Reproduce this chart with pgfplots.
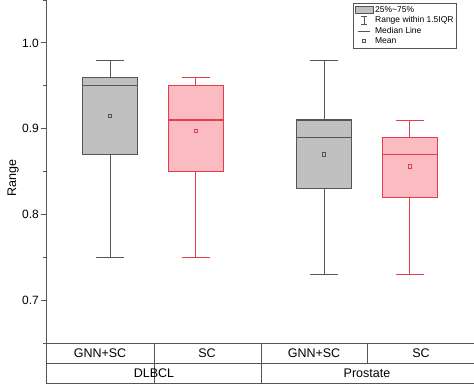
\documentclass[border=0pt]{standalone}
\usepackage{pgfplots}
\pgfplotsset{compat=1.18}
\usepgfplotslibrary{statistics}
\usepackage{fontspec}
\setmainfont{Liberation Sans}
\definecolor{gedge}{RGB}{85,85,85}
\definecolor{gfill}{RGB}{192,192,192}
\definecolor{redge}{RGB}{232,60,72}
\definecolor{rfill}{RGB}{250,188,194}
\begin{document}
\begin{tikzpicture}[x=1pt,y=1pt]
\useasboundingbox (0,0) rectangle (474,384);
\begin{axis}[
  at={(46pt,41pt)}, anchor=south west,
  scale only axis, width=428pt, height=343pt,
  xmin=0.5, xmax=4.5, ymin=0.65, ymax=1.05,
  axis y line*=left, axis x line*=bottom,
  xtick=\empty,
  ytick={0.7,0.8,0.9,1.0},
  minor ytick={0.65,0.75,0.85,0.95,1.05},
  tick align=outside,
  major tick length=5pt, minor tick length=3pt,
  tick style={gedge, line width=0.8pt},
  axis line style={gedge, line width=0.9pt},
  /pgf/number format/assume math mode=true,
  yticklabel style={/pgf/number format/fixed, /pgf/number format/precision=1, /pgf/number format/fixed zerofill, font=\fontsize{12}{14}\selectfont, inner sep=2pt},
  ylabel={Range},
  ylabel style={at={(axis description cs:-0.077,0.481)}, anchor=center, font=\fontsize{12.5}{14}\selectfont},
  legend style={at={(axis description cs:0.960,0.991)}, anchor=north east, font=\fontsize{8.5}{9.5}\selectfont, draw=gedge, line width=0.6pt, inner sep=1pt, row sep=-1.2pt, cells={anchor=west}},
  legend cell align=left,
  boxplot/draw direction=y,
  boxplot/every whisker/.style={line width=1pt},
  boxplot/every median/.style={line width=1.2pt},
  boxplot/every box/.style={line width=1.2pt},
]
\addlegendimage{legend image code/.code={\draw[fill=gfill,draw=gedge,line width=0.6pt] (0pt,-3pt) rectangle (18pt,4pt);}}
\addlegendentry{25\%\textasciitilde75\%}
\addlegendimage{legend image code/.code={\draw[gedge,line width=0.7pt] (9pt,-4pt) -- (9pt,4pt) (6pt,4pt) -- (12pt,4pt) (6pt,-4pt) -- (12pt,-4pt);}}
\addlegendentry{Range within 1.5IQR}
\addlegendimage{legend image code/.code={\draw[gedge,line width=0.7pt] (3pt,0pt) -- (15pt,0pt);}}
\addlegendentry{Median Line}
\addlegendimage{legend image code/.code={\draw[gedge,line width=0.5pt] (7.5pt,-1.5pt) rectangle (10.5pt,1.5pt);}}
\addlegendentry{Mean}

\addplot[forget plot, draw=gedge, fill=gfill, boxplot prepared={draw position=1.1, lower whisker=0.75, lower quartile=0.87, median=0.95, upper quartile=0.96, upper whisker=0.98, box extend=0.514, whisker extend=0.26}] coordinates {};
\addplot[forget plot, draw=redge, fill=rfill, boxplot prepared={draw position=1.9, lower whisker=0.75, lower quartile=0.85, median=0.91, upper quartile=0.95, upper whisker=0.96, box extend=0.514, whisker extend=0.26}] coordinates {};
\addplot[forget plot, draw=gedge, fill=gfill, boxplot prepared={draw position=3.1, lower whisker=0.73, lower quartile=0.83, median=0.89, upper quartile=0.91, upper whisker=0.98, box extend=0.514, whisker extend=0.26}] coordinates {};
\addplot[forget plot, draw=redge, fill=rfill, boxplot prepared={draw position=3.9, lower whisker=0.73, lower quartile=0.82, median=0.87, upper quartile=0.89, upper whisker=0.91, box extend=0.514, whisker extend=0.26}] coordinates {};

\addplot[forget plot, only marks, mark=square, mark size=1.6pt, mark options={gedge, line width=0.8pt, fill=gfill}] coordinates {(1.1,0.915) (3.1,0.870)};
\addplot[forget plot, only marks, mark=square, mark size=1.6pt, mark options={redge, line width=0.8pt, fill=rfill}] coordinates {(1.9,0.897) (3.9,0.856)};
\end{axis}
\begin{scope}[gedge, line width=0.9pt]
\draw (46,0) -- (46,41);
\draw (46,21) -- (474,21);
\draw (46,0.45) -- (474,0.45);
\draw (154,0) -- (154,41);
\draw (261,0) -- (261,41);
\draw (367,21) -- (367,41);
\end{scope}
\begin{scope}[font=\fontsize{12.5}{14}\selectfont]
\node at (100,31) {GNN+SC};
\node at (207,31) {SC};
\node at (314,31) {GNN+SC};
\node at (421,31) {SC};
\node at (154,10.5) {DLBCL};
\node at (367,10.5) {Prostate};
\end{scope}
\end{tikzpicture}
\end{document}
